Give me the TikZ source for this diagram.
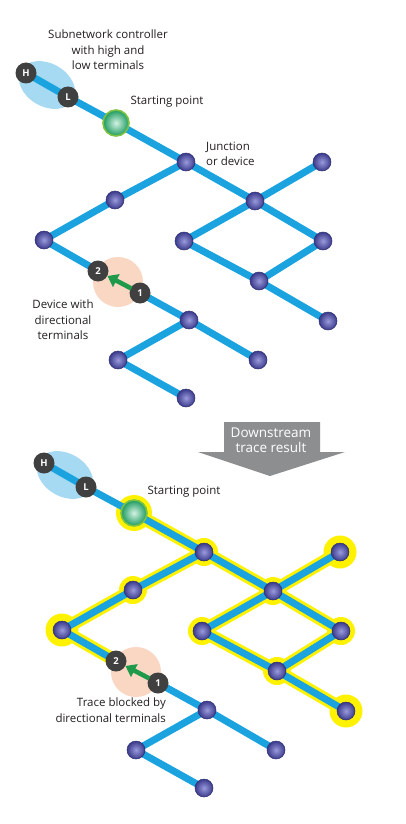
\documentclass[tikz,border=0pt]{standalone}
\usepackage{fontspec}
\setmainfont{Open Sans}
\usetikzlibrary{shapes.geometric,arrows.meta}
\pgfdeclarelayer{paper}
\pgfdeclarelayer{yel}
\pgfdeclarelayer{under}
\pgfdeclarelayer{edges}
\pgfsetlayers{paper,yel,under,edges,main}
\definecolor{edgeblue}{HTML}{1BA3DF}
\definecolor{yelc}{HTML}{FFF200}
\definecolor{ballout}{HTML}{3A3A8C}
\definecolor{ballin}{HTML}{9A9ADC}
\definecolor{termc}{HTML}{404041}
\definecolor{devc}{HTML}{FAD7C2}
\definecolor{ctrlc}{HTML}{A6D9F2}
\definecolor{arrgreen}{HTML}{1E9A4A}
\definecolor{grayarr}{HTML}{8D8E90}
\definecolor{startin}{HTML}{D4F2E4}
\definecolor{startout}{HTML}{1C9B5E}
\definecolor{startrim}{HTML}{7DC242}
\definecolor{txt}{HTML}{231F20}
\tikzset{
  ball/.style={circle, minimum size=18pt, inner sep=0pt, draw=ballout!80!black, line width=0.5pt, inner color=ballin, outer color=ballout},
  startnode/.style={circle, minimum size=26pt, inner sep=0pt, draw=startrim, line width=1.6pt, inner color=startin, outer color=startout},
  term/.style={circle, minimum size=21pt, inner sep=0pt, fill=termc, text=white, font=\bfseries\fontsize{9.5}{9.5}\selectfont},
  edge/.style={draw=edgeblue, line width=7pt},
  yedge/.style={draw=yelc, line width=13pt, line cap=round},
  garrow/.style={draw=arrgreen, line width=4.6pt, -{Triangle[length=10pt,width=14pt]}, shorten <=-1pt},
  lbl/.style={text=txt, font=\fontsize{11.5}{15.5}\selectfont, inner sep=0pt},
  ctrlell/.style={ellipse, fill=ctrlc, minimum width=60pt, minimum height=43pt, inner sep=0pt, rotate=-30},
  devcirc/.style={circle, fill=devc, minimum size=50pt, inner sep=0pt}
}
\newcommand\netw[1]{%
  \node[term] (#1H) at (26,73) {H};
  \node[term] (#1L) at (68,97) {L};
  \node[startnode] (#1S) at (116,123) {};
  \node[ball] (#1J1) at (186,162) {};
  \node[ball] (#1A) at (115,200) {};
  \node[ball] (#1B) at (44,240) {};
  \node[term] (#1T2) at (98,271) {2};
  \node[term] (#1T1) at (140,293) {1};
  \node[ball] (#1J3) at (189,320) {};
  \node[ball] (#1C) at (118,360) {};
  \node[ball] (#1D) at (186,398) {};
  \node[ball] (#1E) at (258,360) {};
  \node[ball] (#1J2) at (255,201) {};
  \node[ball] (#1TR) at (322,162) {};
  \node[ball] (#1F) at (184,241) {};
  \node[ball] (#1G) at (323,241) {};
  \node[ball] (#1K) at (259,281) {};
  \node[ball] (#1M) at (328,321) {};
  \begin{pgfonlayer}{under}
    \node[ctrlell] (#1ctrl) at (47,85) {};
    \node[devcirc] (#1dev) at (118,282) {};
  \end{pgfonlayer}
  \begin{pgfonlayer}{edges}
    \foreach \a/\b in {H/L,L/S,S/J1,J1/A,A/B,B/T2,T1/J3,J3/C,C/D,J3/E,J1/J2,J2/TR,J2/F,J2/G,F/K,G/K,K/M}
      \draw[edge] (#1\a.center) -- (#1\b.center);
  \end{pgfonlayer}
  \draw[garrow] (#1T1) -- (#1T2);
}
\begin{document}
\begin{tikzpicture}[x=1pt,y=-1pt]
\useasboundingbox (0,0) rectangle (405,824);
\begin{pgfonlayer}{paper}
  \fill[white] (0,0) rectangle (405,824);
\end{pgfonlayer}
% top network
\begin{scope}
  \netw{t}
  \node[lbl, align=center] (tctrlLbl) at (108,50) {Subnetwork controller\\with high and\\low terminals};
  \node[lbl] (tstartLbl) at (167,102) {Starting point};
  \node[lbl, align=left, anchor=west] (tjuncLbl) at (206,154) {Junction\\or device};
  \node[lbl, align=center] (tdevLbl) at (63,320) {Device with\\directional\\terminals};
\end{scope}
% gray arrow
\fill[grayarr] (224,422) -- (320,422) -- (320,452) -- (345,452) -- (270,476) -- (198,452) -- (224,452) -- cycle;
\node[text=white, font=\fontsize{13.5}{15}\selectfont, align=center, inner sep=0pt] (arrLbl) at (271,440) {Downstream\\trace result};
% bottom network
\begin{scope}[shift={(18,390)}]
  \netw{b}
  \begin{pgfonlayer}{yel}
    \foreach \a/\b in {S/J1,J1/A,A/B,B/T2,J1/J2,J2/TR,J2/F,J2/G,F/K,G/K,K/M}
      \draw[yedge] (b\a.center) -- (b\b.center);
    \foreach \n in {J1,A,J2,F,G,K}
      \fill[yelc] (b\n) circle [radius=14];
    \foreach \n in {B,TR,M}
      \fill[yelc] (b\n) circle [radius=16.5];
    \fill[yelc] (bS) circle [radius=18];
  \end{pgfonlayer}
  \node[lbl] (bstartLbl) at (166,102) {Starting point};
  \node[lbl, align=right, anchor=east] (bblockLbl) at (148,320) {Trace blocked by\\directional terminals};
\end{scope}
\end{tikzpicture}
\end{document}
